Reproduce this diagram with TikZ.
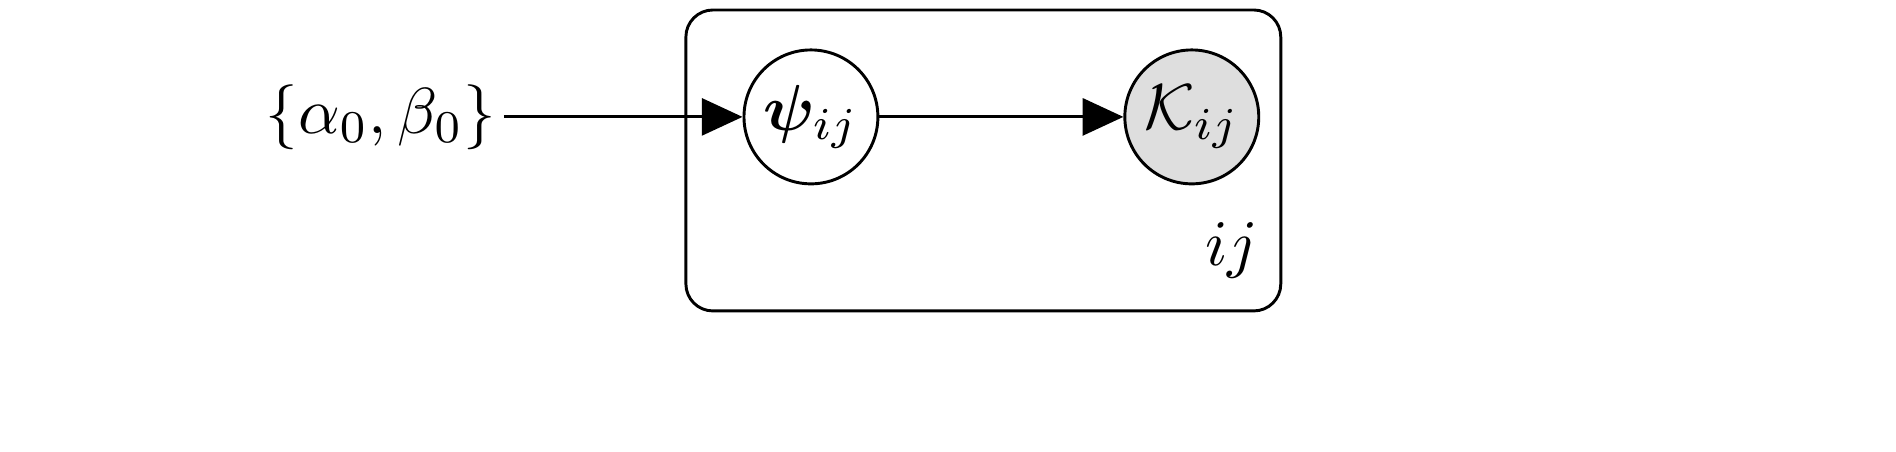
\documentclass[tikz,border=0pt]{standalone}
\usepackage{amsmath,amssymb,bm}
\usetikzlibrary{arrows.meta}

\begin{document}
\begin{tikzpicture}[
		latent/.style={circle, draw, line width=0.45pt, minimum size=0.724cm, inner sep=0pt},
		observed/.style={latent, fill=black!13},
		edge/.style={line width=0.45pt, -{Triangle[length=0.22cm,width=0.2cm]}}]
			%%%%% START %%%%%
			
			\useasboundingbox (0, 0) rectangle (10.25, 2.443);
			
			\draw[line width=0.45pt, rounded corners=0.146cm] (3.708, 0.762) rectangle (6.924, 2.389);
			\node (plate) at (6.659, 1.092) {$ij$};
			
			\node[inner sep=1pt] (prior) at (2.059, 1.811) {$\{\alpha_0,\beta_0\}$};
			\node[latent] (psi) at (4.384, 1.811) {$\bm{\psi}_{ij}$};
			\node[observed] (kappa) at (6.443, 1.811) {$\mathcal{K}_{ij}$};
			
			\draw[edge] (prior) -- (psi);
			\draw[edge] (psi) -- (kappa);
			
			%%%%% END %%%%%
		\end{tikzpicture}
\end{document}
